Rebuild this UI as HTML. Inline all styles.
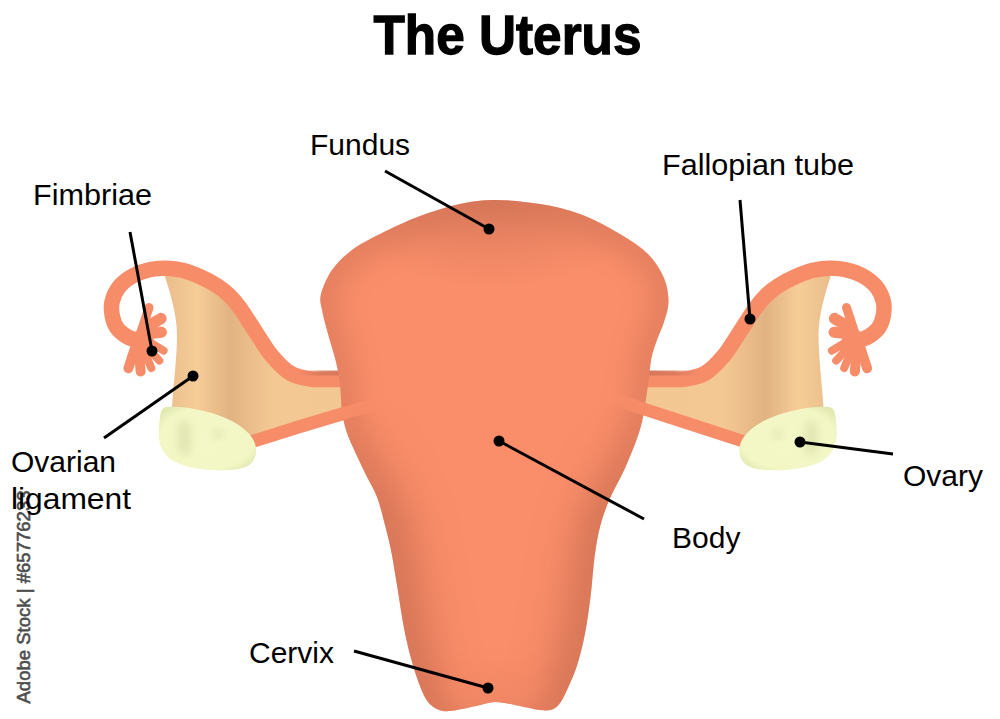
<!DOCTYPE html>
<html><head><meta charset="utf-8">
<style>
html,body{margin:0;padding:0;background:#fff;}
body{width:1000px;height:719px;overflow:hidden;position:relative;}
svg{position:absolute;left:0;top:0;}
.t{font-family:"Liberation Sans",sans-serif;fill:#000;}
</style></head><body>
<svg width="1000" height="719" viewBox="0 0 1000 719">
<defs>
  <linearGradient id="tanL" x1="165" y1="0" x2="345" y2="0" gradientUnits="userSpaceOnUse">
    <stop offset="0" stop-color="#E9BE8B"/>
    <stop offset="0.18" stop-color="#F6CC97"/>
    <stop offset="0.36" stop-color="#E1B382"/>
    <stop offset="0.6" stop-color="#F4C893"/>
    <stop offset="1" stop-color="#F3C792"/>
  </linearGradient>
  <radialGradient id="ovG" cx="0.5" cy="0.5" r="0.62">
    <stop offset="0" stop-color="#F4F8C8"/>
    <stop offset="0.78" stop-color="#F2F7C5"/>
    <stop offset="1" stop-color="#E2E8B0"/>
  </radialGradient>
  <filter id="bl4" x="-50%" y="-50%" width="200%" height="200%"><feGaussianBlur stdDeviation="4"/></filter>
  <radialGradient id="topd" cx="492" cy="196" r="160" gradientUnits="userSpaceOnUse" gradientTransform="translate(492 196) scale(1 0.58) translate(-492 -196)">
    <stop offset="0" stop-color="#B8644B" stop-opacity="0.42"/>
    <stop offset="0.45" stop-color="#B8644B" stop-opacity="0.25"/>
    <stop offset="1" stop-color="#B8644B" stop-opacity="0"/>
  </radialGradient>
  <linearGradient id="tubesh" x1="296" y1="0" x2="345" y2="0" gradientUnits="userSpaceOnUse">
    <stop offset="0" stop-color="#D7775B" stop-opacity="0"/>
    <stop offset="0.5" stop-color="#D7775B" stop-opacity="0.8"/>
    <stop offset="1" stop-color="#D7775B" stop-opacity="1"/>
  </linearGradient>
  <linearGradient id="strL" x1="335" y1="0" x2="405" y2="0" gradientUnits="userSpaceOnUse">
    <stop offset="0" stop-color="#F98D69" stop-opacity="1"/>
    <stop offset="0.4" stop-color="#F98D69" stop-opacity="0.8"/>
    <stop offset="1" stop-color="#F98D69" stop-opacity="0"/>
  </linearGradient>
  <linearGradient id="strR" x1="660" y1="0" x2="590" y2="0" gradientUnits="userSpaceOnUse">
    <stop offset="0" stop-color="#F98D69" stop-opacity="1"/>
    <stop offset="0.4" stop-color="#F98D69" stop-opacity="0.8"/>
    <stop offset="1" stop-color="#F98D69" stop-opacity="0"/>
  </linearGradient>
  <filter id="bl20" x="-50%" y="-50%" width="200%" height="200%"><feGaussianBlur stdDeviation="20"/></filter>
  <linearGradient id="lowg" x1="0" y1="400" x2="0" y2="520" gradientUnits="userSpaceOnUse">
    <stop offset="0" stop-color="#fff" stop-opacity="0"/>
    <stop offset="1" stop-color="#fff" stop-opacity="1"/>
  </linearGradient>
  <mask id="lowm" maskUnits="userSpaceOnUse" x="0" y="0" width="1000" height="719"><rect x="0" y="0" width="1000" height="719" fill="url(#lowg)"/></mask>
  <filter id="bl12" x="-50%" y="-50%" width="200%" height="200%"><feGaussianBlur stdDeviation="12"/></filter>
  <filter id="bl14" x="-50%" y="-50%" width="200%" height="200%"><feGaussianBlur stdDeviation="14"/></filter>
  <filter id="bl10" x="-50%" y="-50%" width="200%" height="200%"><feGaussianBlur stdDeviation="10"/></filter>
  <clipPath id="uclip"><path id="up" d="M496.0 200.0 C509.3 200.0 526.0 201.7 540.0 204.0 C554.0 206.3 566.7 209.0 580.0 214.0 C593.3 219.0 608.7 227.3 620.0 234.0 C631.3 240.7 640.7 246.7 648.0 254.0 C655.3 261.3 660.6 270.0 664.0 278.0 C667.4 286.0 668.5 294.7 668.5 302.0 C668.5 309.3 665.9 315.7 664.0 322.0 C662.1 328.3 659.1 334.0 657.0 340.0 C654.9 346.0 653.0 350.5 651.5 358.0 C650.0 365.5 649.1 377.2 648.0 385.0 C646.9 392.8 646.0 398.8 645.0 405.0 C644.0 411.2 643.4 416.2 642.0 422.0 C640.6 427.8 639.5 431.8 636.5 440.0 C633.5 448.2 628.1 461.3 623.7 471.0 C619.3 480.7 613.9 489.1 610.0 498.2 C606.1 507.2 603.0 515.6 600.4 525.3 C597.8 535.0 596.2 544.8 594.6 556.4 C593.0 568.0 592.3 582.3 590.7 595.2 C589.1 608.1 587.1 622.4 584.9 634.0 C582.6 645.6 579.9 656.3 577.2 665.0 C574.5 673.7 571.5 679.8 568.8 686.0 C566.1 692.2 563.5 698.1 560.8 702.0 C558.1 705.9 556.3 707.9 552.8 709.2 C549.3 710.5 546.1 710.7 540.0 710.0 C533.9 709.3 523.5 706.5 516.0 705.2 C508.5 703.9 501.9 701.9 495.2 702.0 C488.5 702.1 483.2 704.5 476.0 706.0 C468.8 707.5 458.1 710.1 452.0 710.8 C445.9 711.5 443.2 711.5 439.2 710.0 C435.2 708.5 431.2 706.0 428.0 702.0 C424.8 698.0 422.8 693.0 420.0 686.0 C417.2 679.0 414.2 669.7 411.5 660.0 C408.8 650.3 406.4 640.5 404.0 628.0 C401.6 615.5 399.2 598.0 397.0 585.0 C394.8 572.0 393.0 560.0 391.0 550.0 C389.0 540.0 387.3 533.8 385.0 525.0 C382.7 516.2 380.2 505.3 377.0 497.0 C373.8 488.7 369.5 482.2 366.0 475.0 C362.5 467.8 359.1 460.8 355.9 453.7 C352.7 446.6 349.0 439.4 346.7 432.3 C344.4 425.2 343.1 418.9 342.0 411.0 C340.9 403.1 341.0 393.2 340.0 385.0 C339.0 376.8 338.0 370.5 336.0 362.0 C334.0 353.5 330.3 342.7 328.0 334.0 C325.7 325.3 323.2 316.7 322.0 310.0 C320.8 303.3 319.3 300.7 321.0 294.0 C322.7 287.3 326.8 277.3 332.0 270.0 C337.2 262.7 344.0 256.0 352.0 250.0 C360.0 244.0 368.7 239.7 380.0 234.0 C391.3 228.3 406.7 221.0 420.0 216.0 C433.3 211.0 447.3 206.7 460.0 204.0 C472.7 201.3 482.7 200.0 496.0 200.0 Z"/></clipPath>
  <g id="appA">
    <!-- tan ligament -->
    <path d="M165 277 C170 292 177 315 177 335 C177 360 173 385 171.5 416 L171 420 L250 441 L352 411 L352 379.5 L350 379.5 C346.7 379.5 336.7 379.6 330.0 379.5 C323.3 379.4 316.7 380.1 310.0 379.0 C303.3 377.9 296.3 376.8 290.0 373.0 C283.7 369.2 277.5 362.5 272.0 356.0 C266.5 349.5 262.3 342.0 257.0 334.0 C251.7 326.0 244.7 314.5 240.0 308.0 C235.3 301.5 232.9 298.8 229.0 295.0 C225.1 291.2 221.5 288.6 216.7 285.5 C211.9 282.4 205.6 279.2 200.0 276.7 C194.4 274.2 189.0 271.9 183.4 270.5 C177.8 269.1 169.5 268.6 166.7 268.2 Z" fill="url(#tanL)"/>
    </g>
  <g id="app">
    <!-- tube -->
    <path d="M135.0 340.0 C133.5 339.3 129.0 338.0 126.0 336.0 C123.0 334.0 119.3 331.3 117.0 328.0 C114.7 324.7 113.1 320.3 112.3 316.0 C111.5 311.7 110.9 306.8 112.0 302.0 C113.1 297.2 115.5 291.4 119.0 287.0 C122.5 282.6 127.7 278.6 133.0 275.7 C138.3 272.8 145.0 270.8 150.6 269.5 C156.2 268.2 161.2 268.0 166.7 268.2 C172.2 268.4 177.8 269.1 183.4 270.5 C189.0 271.9 194.4 274.2 200.0 276.7 C205.6 279.2 211.9 282.4 216.7 285.5 C221.5 288.6 225.1 291.2 229.0 295.0 C232.9 298.8 235.3 301.5 240.0 308.0 C244.7 314.5 251.7 326.0 257.0 334.0 C262.3 342.0 266.5 349.5 272.0 356.0 C277.5 362.5 283.7 369.2 290.0 373.0 C296.3 376.8 303.3 377.9 310.0 379.0 C316.7 380.1 323.3 379.4 330.0 379.5 C336.7 379.6 346.7 379.5 350.0 379.5" fill="none" stroke="#F78C69" stroke-width="15.5"/>
    <path d="M296 373 L350 373" stroke="url(#tubesh)" stroke-width="5"/>
    <!-- fimbriae -->
    <g stroke="#F78C69" stroke-linecap="round">
      <line x1="140.0" y1="335.0" x2="149.0" y2="307.6" stroke-width="9.0"/>
      <line x1="145.0" y1="328.0" x2="160.9" y2="318.6" stroke-width="11.5"/>
      <line x1="146.0" y1="334.0" x2="161.5" y2="332.2" stroke-width="11.0"/>
      <line x1="146.0" y1="340.0" x2="163.6" y2="350.7" stroke-width="8.0"/>
      <line x1="145.0" y1="345.0" x2="159.3" y2="360.6" stroke-width="8.0"/>
      <line x1="143.0" y1="348.0" x2="151.3" y2="368.0" stroke-width="8.0"/>
      <line x1="139.0" y1="350.0" x2="140.6" y2="371.5" stroke-width="10.0"/>
      <line x1="135.0" y1="348.0" x2="128.4" y2="368.2" stroke-width="10.0"/>
    </g>
    <ellipse cx="143" cy="343" rx="11" ry="14" transform="rotate(-15 143 343)" fill="#F78C69"/>
    <!-- ovary -->
    <path d="M166 407 C185 405 215 412 232 421 C248 430 257 440 256 452 C255 465 245 470 225 470 C205 471 185 468 172 460 C160 452 158 440 159 428 C160 415 160 408 166 407 Z" fill="url(#ovG)"/>
    <g filter="url(#bl4)" opacity="0.7">
      <rect x="178" y="421" width="13" height="34" rx="6" fill="#D9DFAA"/>
      <ellipse cx="218" cy="434" rx="6" ry="4.5" fill="#D9DFAA"/>
    </g>
  </g>
</defs>
<use href="#appA"/>
<use href="#appA" transform="matrix(-1 0 0 1 995.5 0)"/>
<path d="M235 447 L300 426.5 L352 411" fill="none" stroke="#F78C69" stroke-width="13"/>
<path d="M600 394.7 L700 427.2 L765 448.3" fill="none" stroke="#F78C69" stroke-width="12.5"/>
<use href="#app"/>
<use href="#app" transform="matrix(-1 0 0 1 995.5 0)"/>
<!-- uterus -->
<use href="#up" fill="#FA8E6A"/>
<g clip-path="url(#uclip)">
  <rect x="300" y="195" width="400" height="110" fill="url(#topd)"/>
  <use href="#up" fill="none" stroke="#C46A50" stroke-width="36" filter="url(#bl12)" opacity="0.38"/>
  <path d="M345 400 C355 440 370 470 380 500 C392 540 400 600 410 650 C415 680 422 700 430 720 M650 400 C640 440 625 470 612 500 C600 540 592 600 583 650 C578 680 570 700 562 720" fill="none" stroke="#C46A50" stroke-width="60" filter="url(#bl20)" opacity="0.4" mask="url(#lowm)"/>
  <ellipse cx="494" cy="692" rx="48" ry="22" fill="#F58A67" filter="url(#bl10)" opacity="0.75"/>
</g>
<g clip-path="url(#uclip)">
  <path d="M330 417.5 L405 395" stroke="url(#strL)" stroke-width="12.5"/>
  <path d="M665 415.8 L590 391.5" stroke="url(#strR)" stroke-width="12.5"/>
</g>
<!-- lines -->
<g stroke="#000" stroke-width="3" fill="none">
<line x1="385" y1="171" x2="489" y2="229"/>
<line x1="130" y1="232" x2="152" y2="351"/>
<line x1="740" y1="200" x2="750" y2="319"/>
<line x1="104" y1="438" x2="193" y2="376"/>
<line x1="800" y1="442" x2="893" y2="454"/>
<line x1="499" y1="441" x2="644" y2="519"/>
<line x1="354" y1="651" x2="488" y2="688"/>
</g>
<g fill="#000">
<circle cx="489" cy="229" r="5.5"/>
<circle cx="152" cy="351" r="5.5"/>
<circle cx="750" cy="319" r="5.5"/>
<circle cx="193" cy="376" r="5.5"/>
<circle cx="800" cy="442" r="5.5"/>
<circle cx="499" cy="441" r="5.5"/>
<circle cx="488" cy="688" r="5.5"/>
</g>
<!-- text -->
<text class="t" transform="translate(30 703.5) rotate(-90)" x="0" y="0" font-size="18.5" style="fill:#4d4d4d;stroke:#4d4d4d;stroke-width:0.6" textLength="213" lengthAdjust="spacingAndGlyphs">Adobe Stock | #65776233</text>
<text class="t" x="373.5" y="54" font-size="56" font-weight="bold" textLength="268" lengthAdjust="spacingAndGlyphs" style="stroke:#000;stroke-width:1.3">The Uterus</text>
<text class="t" x="310" y="155" font-size="30">Fundus</text>
<text class="t" x="33" y="205" font-size="30" textLength="119" lengthAdjust="spacingAndGlyphs">Fimbriae</text>
<text class="t" x="662" y="175" font-size="30" textLength="192" lengthAdjust="spacingAndGlyphs">Fallopian tube</text>
<text class="t" x="11" y="472" font-size="30">Ovarian</text>
<text class="t" x="11" y="509" font-size="30" textLength="120" lengthAdjust="spacingAndGlyphs">ligament</text>
<text class="t" x="903" y="486" font-size="30">Ovary</text>
<text class="t" x="672" y="548" font-size="30">Body</text>
<text class="t" x="249" y="663" font-size="30">Cervix</text>
</svg>
</body></html>
